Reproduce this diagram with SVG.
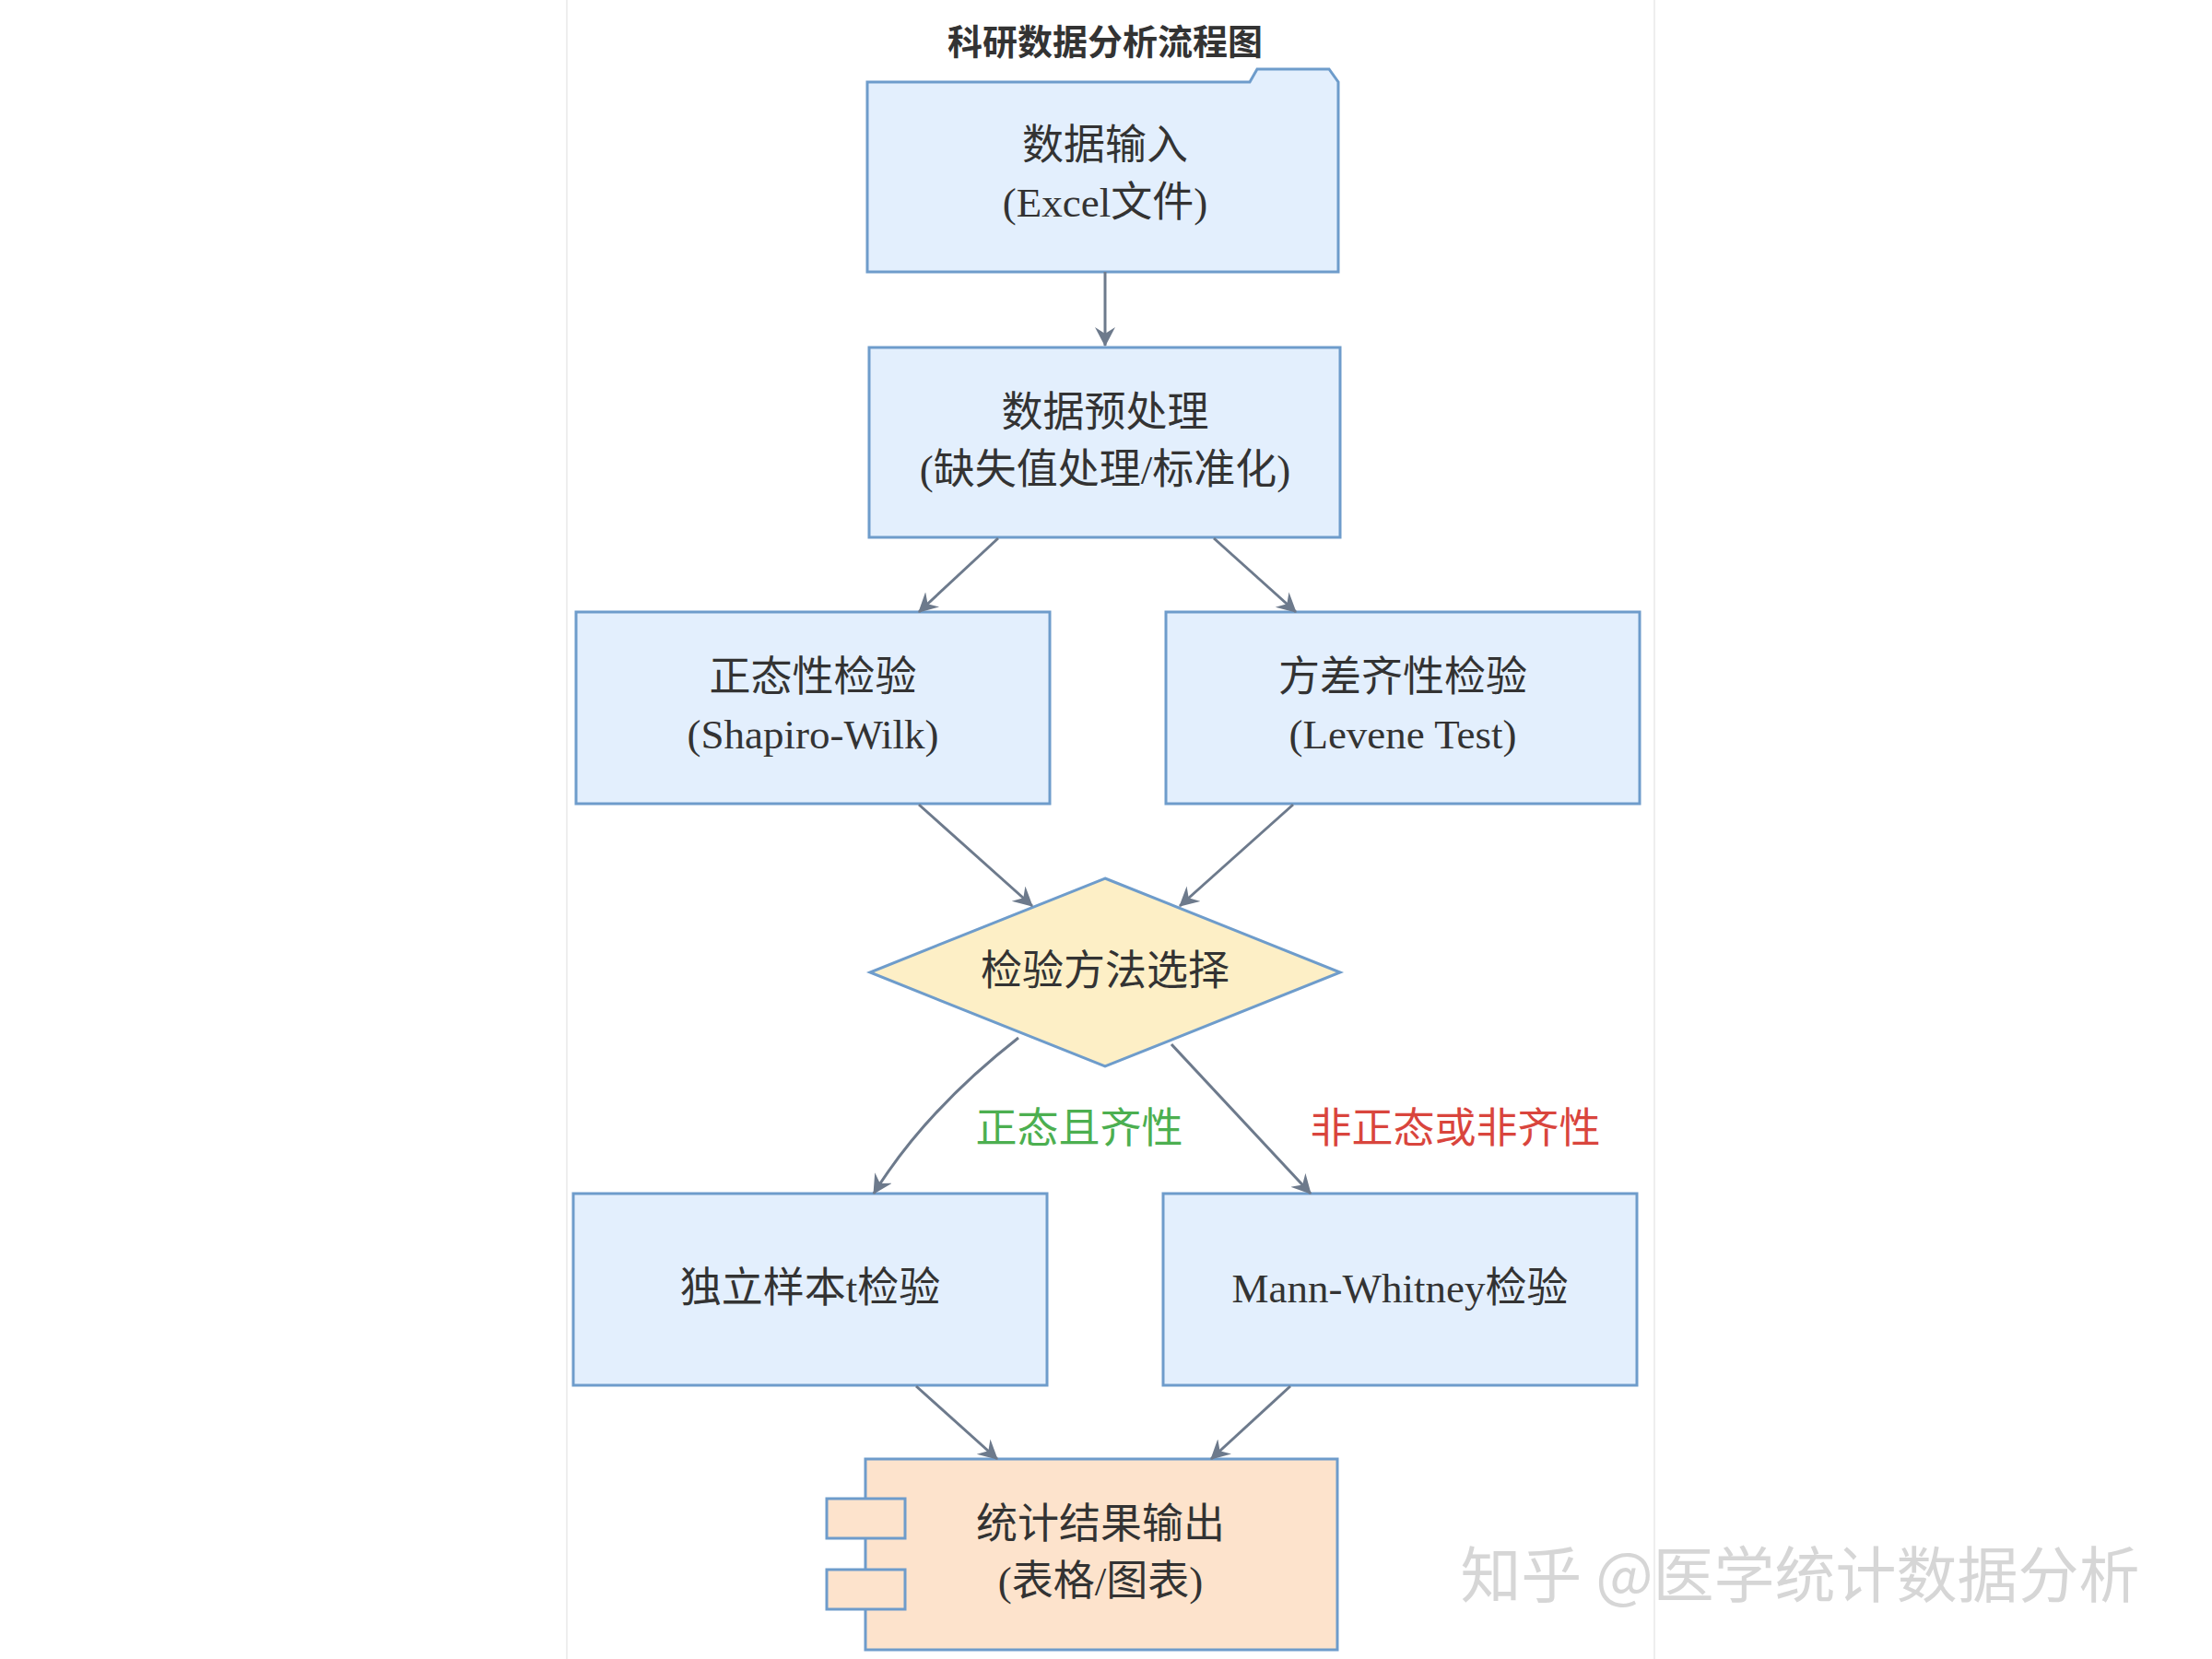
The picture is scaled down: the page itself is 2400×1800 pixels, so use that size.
<svg xmlns="http://www.w3.org/2000/svg" width="2400" height="1800" viewBox="0 0 2400 1800">
<style>
.b{fill:#e3effd;stroke:#6e9ccb;stroke-width:3}
.t{font-family:"Liberation Serif","Noto Sans CJK SC",serif;font-size:45px;fill:#333;text-anchor:middle}
.c{fill:none;stroke:#6d7a8c;stroke-width:3;marker-end:url(#a)}
</style>
<defs><marker id="a" markerWidth="24" markerHeight="24" refX="20" refY="11" orient="auto" markerUnits="userSpaceOnUse"><path d="M0,0 L21,11 L0,22 L7,11 Z" fill="#6d7a8c"/></marker></defs>
<rect width="2400" height="1800" fill="#fff"/>
<line x1="615" y1="0" x2="615" y2="1800" stroke="#eee" stroke-width="2"/>
<line x1="1795" y1="0" x2="1795" y2="1800" stroke="#eee" stroke-width="2"/>
<g transform="translate(-6,-5)">
<text x="1205" y="64" font-family="Noto Sans CJK SC,sans-serif" font-size="38" font-weight="bold" fill="#333" text-anchor="middle">科研数据分析流程图</text>
<g id="n1"><path class="b" d="M947,94 H1362 L1370,80 H1448 L1458,94 V300 H947 Z"/><text class="t" x="1205" y="178">数据输入</text><text class="t" x="1205" y="240">(Excel文件)</text></g>
<g id="n2"><rect class="b" x="949" y="382" width="511" height="206"/><text class="t" x="1205" y="468">数据预处理</text><text class="t" x="1205" y="530">(缺失值处理/标准化)</text></g>
<g id="n3"><rect class="b" x="631" y="669" width="514" height="208"/><text class="t" x="888" y="755">正态性检验</text><text class="t" x="888" y="817">(Shapiro-Wilk)</text></g>
<g id="n4"><rect class="b" x="1271" y="669" width="514" height="208"/><text class="t" x="1528" y="755">方差齐性检验</text><text class="t" x="1528" y="817">(Levene Test)</text></g>
<g id="n5"><path d="M1205,958 L1460,1060 L1205,1162 L950,1060 Z" fill="#fdefc6" stroke="#6e9ccb" stroke-width="3"/><text class="t" x="1205" y="1074">检验方法选择</text></g>
<g id="n6"><rect class="b" x="628" y="1300" width="514" height="208"/><text class="t" x="885" y="1418">独立样本t检验</text></g>
<g id="n7"><rect class="b" x="1268" y="1300" width="514" height="208"/><text class="t" x="1525" y="1418">Mann-Whitney检验</text></g>
<g id="n8"><rect x="945" y="1588" width="512" height="207" fill="#fde3cc" stroke="#6e9ccb" stroke-width="3"/><rect x="903" y="1631" width="85" height="43" fill="#fde3cc" stroke="#6e9ccb" stroke-width="3"/><rect x="903" y="1708" width="85" height="43" fill="#fde3cc" stroke="#6e9ccb" stroke-width="3"/><text class="t" x="1200" y="1674">统计结果输出</text><text class="t" x="1200" y="1736">(表格/图表)</text></g>
<g id="connectors">
<path class="c" d="M1205,300 V380"/>
<path class="c" d="M1089,589 L1003,669"/>
<path class="c" d="M1323,589 L1412,669"/>
<path class="c" d="M1003,878 L1126,988"/>
<path class="c" d="M1409,878 L1286,988"/>
<path class="c" d="M1111,1131 Q1010,1210 954,1300"/>
<path class="c" d="M1277,1138 L1428,1300"/>
<path class="c" d="M1000,1509 L1088,1588"/>
<path class="c" d="M1406,1509 L1320,1588"/>
<text class="t" x="1177" y="1245" style="fill:#4caf50">正态且齐性</text>
<text class="t" x="1585" y="1245" style="fill:#d9453d">非正态或非齐性</text>
</g>
</g>
<text x="1953" y="1733" font-family="Noto Sans CJK SC,sans-serif" font-size="66" fill="#ccc" fill-opacity="0.8" text-anchor="middle">知乎 @医学统计数据分析</text>
</svg>
